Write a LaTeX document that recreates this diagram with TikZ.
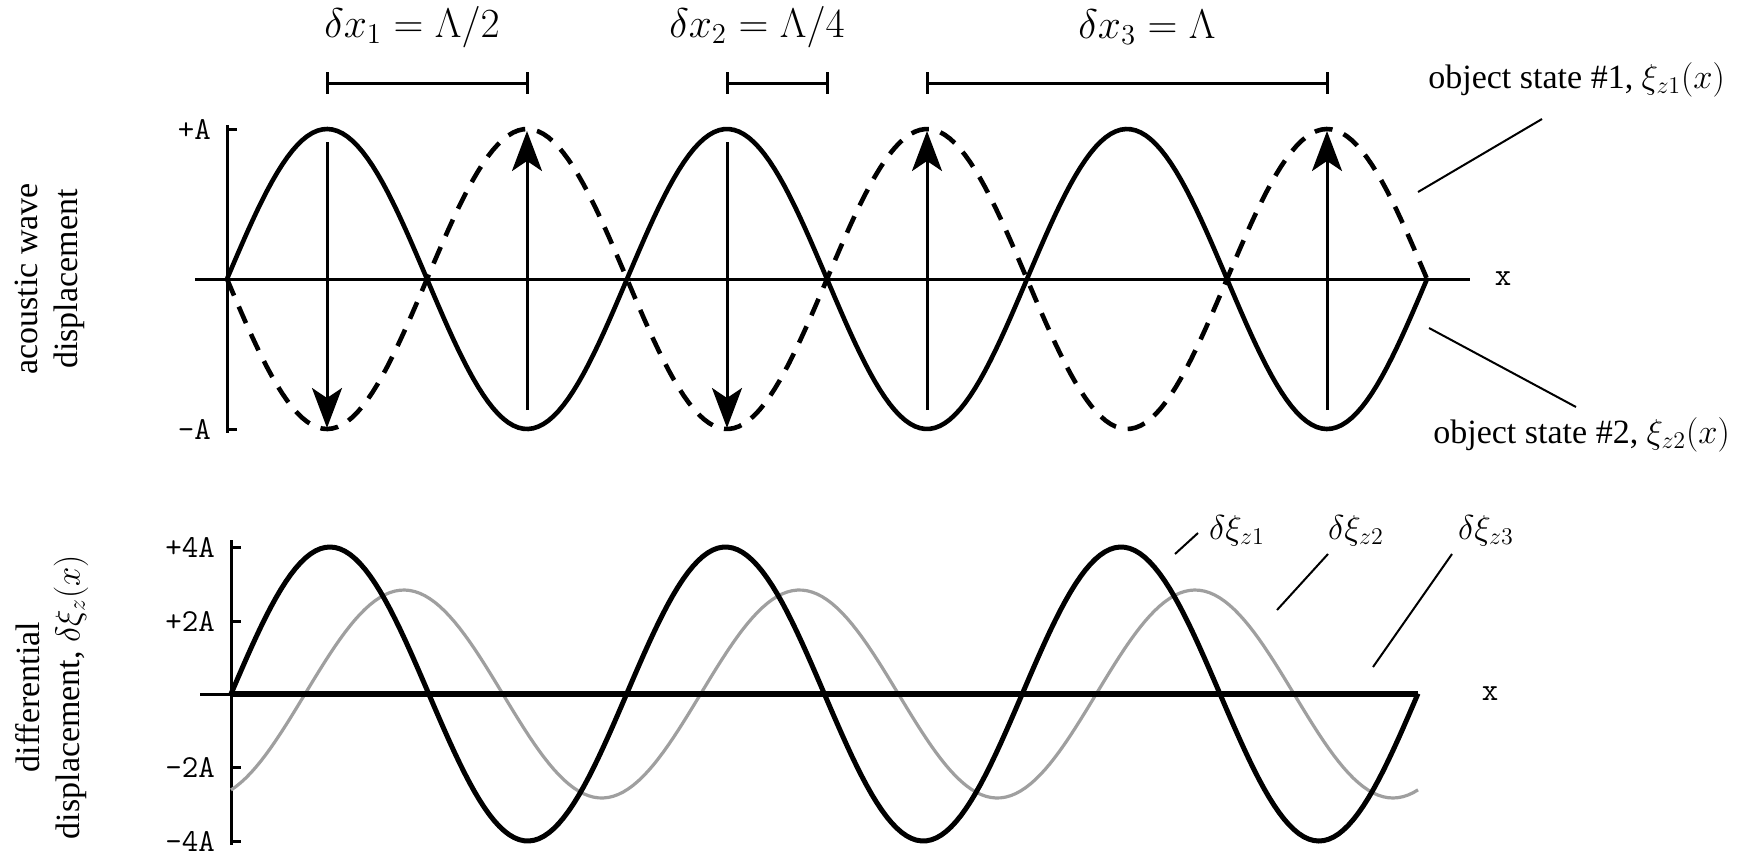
\documentclass[tikz,border=0pt]{standalone}
\usepackage{fontspec}
\setmainfont{Liberation Serif}
\usetikzlibrary{arrows.meta}
\begin{document}
\begin{tikzpicture}[x=0.5pt,y=-0.5pt,
  axis/.style={line width=1.5pt},
  wave/.style={line width=2.3pt},
  arr/.style={line width=1.5pt,-{Stealth[length=20pt,width=15pt,inset=5pt]}},
  tick/.style={font=\ttfamily\fontsize{16}{16}\selectfont,anchor=east},
  lab/.style={font=\fontsize{17}{20}\selectfont},
  mlab/.style={font=\fontsize{21}{22}\selectfont},
  lead/.style={line width=1pt}]
\useasboundingbox (0,0) rectangle (1762,863);
\fill[white] (0,0) rectangle (1762,863);
% ---------- top panel ----------
\draw[axis] (227,125) -- (227,433);
\draw[axis] (195,279) -- (1470,279);
\draw[axis] (227,129) -- (237,129);
\draw[axis] (227,429) -- (237,429);
\node[tick] (pA) at (218,129) {+A};
\node[tick] (mA) at (218,429) {-A};
\node[font=\ttfamily\fontsize{16}{16}\selectfont] (xt) at (1503,279) {x};
\draw[wave] plot[domain=227:1427,samples=240] (\x,{279-150*sin(0.9*(\x-227))});
\draw[wave,dash pattern=on 9pt off 6pt] plot[domain=227:1427,samples=240] (\x,{279+150*sin(0.9*(\x-227))});
\draw[arr] (327,142) -- (327,428);
\draw[arr] (527,410) -- (527,131);
\draw[arr] (727,142) -- (727,428);
\draw[arr] (927,410) -- (927,131);
\draw[arr] (1327,410) -- (1327,131);
% bars
\foreach \a/\b in {327/527,727/827,927/1327}{
  \draw[axis] (\a,83) -- (\b,83);
  \draw[axis] (\a,72) -- (\a,94);
  \draw[axis] (\b,72) -- (\b,94);}
\node[mlab] (d1) at (412,27) {$\delta x_1=\Lambda/2$};
\node[mlab] (d2) at (757,27) {$\delta x_2=\Lambda/4$};
\node[mlab] (d3) at (1147,27) {$\delta x_3=\Lambda$};
\node[lab,anchor=east] (s1) at (1732,80) {object state \#1, $\xi_{z1}(x)$};
\node[lab,anchor=east] (s2) at (1737,435) {object state \#2, $\xi_{z2}(x)$};
\coordinate (s1a) at (1418,192); \coordinate (s1b) at (1542,119);
\coordinate (s2a) at (1429,328); \coordinate (s2b) at (1576,407);
\draw[lead] (s1a) -- (s1b);
\draw[lead] (s2a) -- (s2b);
\node[lab,rotate=90,align=center] (yl1) at (50,279) {acoustic wave\\displacement};
% ---------- bottom panel ----------
\draw[axis] (231,540) -- (231,845);
\draw[axis] (200,694) -- (1412,694);
\foreach \yy in {547,621,767,841}{\draw[axis] (231,\yy) -- (241,\yy);}
\node[tick] (p4) at (222,547) {+4A};
\node[tick] (p2) at (222,621) {+2A};
\node[tick] (m2) at (222,767) {-2A};
\node[tick] (m4) at (222,841) {-4A};
\node[font=\ttfamily\fontsize{16}{16}\selectfont] (xb) at (1490,694) {x};
\draw[line width=1.6pt,gray!75] plot[domain=231:1418,samples=240] (\x,{694-104*sin(0.91*(\x-305))});
\draw[line width=2.5pt] plot[domain=231:1418,samples=240] (\x,{694-147*sin(0.91*(\x-231))});
\draw[line width=3pt] (231,694) -- (1418,694);
\node[lab] (z1) at (1237,531) {$\delta\xi_{z1}$};
\node[lab] (z2) at (1356,531) {$\delta\xi_{z2}$};
\node[lab] (z3) at (1486,531) {$\delta\xi_{z3}$};
\coordinate (z1a) at (1175,554); \coordinate (z1b) at (1198,533);
\coordinate (z2a) at (1277,610); \coordinate (z2b) at (1328,554);
\coordinate (z3a) at (1373,667); \coordinate (z3b) at (1452,554);
\draw[lead] (z1a) -- (z1b);
\draw[lead] (z2a) -- (z2b);
\draw[lead] (z3a) -- (z3b);
\node[lab,rotate=90,align=center] (yl2) at (52,697) {differential\\displacement, $\delta\xi_z(x)$};
\end{tikzpicture}
\end{document}
